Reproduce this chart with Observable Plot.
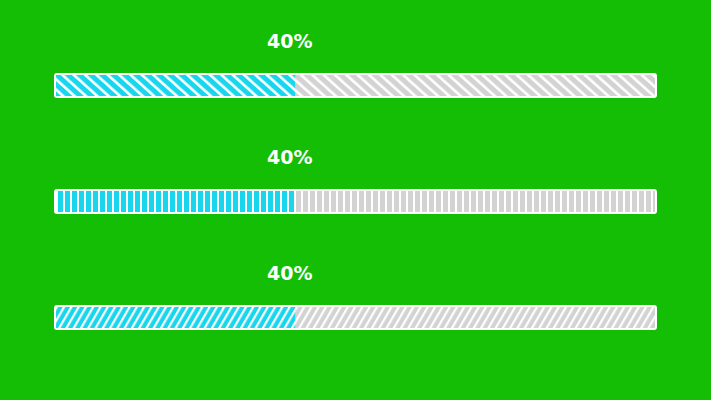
<!DOCTYPE html>
<html>
<head>
<meta charset="utf-8">
<script src="https://cdn.jsdelivr.net/npm/d3@7"></script>
<script src="https://cdn.jsdelivr.net/npm/@observablehq/plot@0.6"></script>
<style>
  html, body { margin: 0; padding: 0; background: #14be04; }
  #chart { width: 711px; height: 400px; }
</style>
</head>
<body>
<div id="chart"></div>
<script>
// Data
const bars = ["diagonal-down", "vertical", "diagonal-up"];
const values = [40, 40, 40];
const labels = ["40%", "40%", "40%"];
const maxValue = 100;

const rows = bars.map((b, i) => ({
  bar: b,
  value: values[i],
  label: labels[i],
  track: `url(#track-${i})`,
  fillPat: `url(#fill-${i})`
}));

const chart = Plot.plot({
  width: 711,
  height: 400,
  marginTop: 0, marginBottom: 0, marginLeft: 54, marginRight: 54,
  style: { background: "transparent", overflow: "visible" },
  x: { domain: [0, maxValue], axis: null },
  y: { domain: bars, range: [72, 330], paddingInner: 0.7854, paddingOuter: 0, axis: null },
  color: { type: "identity" },
  marks: [
    Plot.barX(rows, { y: "bar", x1: 0, x2: maxValue, fill: "white", rx: 3 }),
    Plot.barX(rows, { y: "bar", x1: 0, x2: maxValue, fill: "track", inset: 2 }),
    Plot.barX(rows, { y: "bar", x1: 0, x2: "value", fill: "fillPat", insetTop: 2, insetBottom: 2, insetLeft: 2 }),
    Plot.text(rows, {
      y: "bar", x: "value", text: "label", dx: -6, dy: -44.5,
      fill: "white", fontSize: 19, fontWeight: "bold", fontFamily: "'DejaVu Sans', sans-serif"
    })
  ]
});

// stripe patterns
const specs = [
  { rot: -48, period: 7.6, white: 2.6 },
  { rot: 0, period: 7.0, white: 2.0 },
  { rot: 30, period: 6.3, white: 2.2 }
];
const ns = "http://www.w3.org/2000/svg";
const defs = document.createElementNS(ns, "defs");
function makePattern(id, base, spec) {
  const p = document.createElementNS(ns, "pattern");
  p.setAttribute("id", id);
  p.setAttribute("patternUnits", "userSpaceOnUse");
  p.setAttribute("width", spec.period);
  p.setAttribute("height", 20);
  p.setAttribute("patternTransform", `rotate(${spec.rot})`);
  const r = document.createElementNS(ns, "rect");
  r.setAttribute("width", spec.period); r.setAttribute("height", 20); r.setAttribute("fill", base);
  const w = document.createElementNS(ns, "rect");
  w.setAttribute("width", spec.white); w.setAttribute("height", 20); w.setAttribute("fill", "white");
  p.appendChild(r); p.appendChild(w);
  defs.appendChild(p);
}
specs.forEach((s, i) => {
  makePattern(`track-${i}`, "#d3d3d3", s);
  makePattern(`fill-${i}`, "#18d6ee", s);
});
chart.insertBefore(defs, chart.firstChild);
document.getElementById("chart").appendChild(chart);
</script>
</body>
</html>
